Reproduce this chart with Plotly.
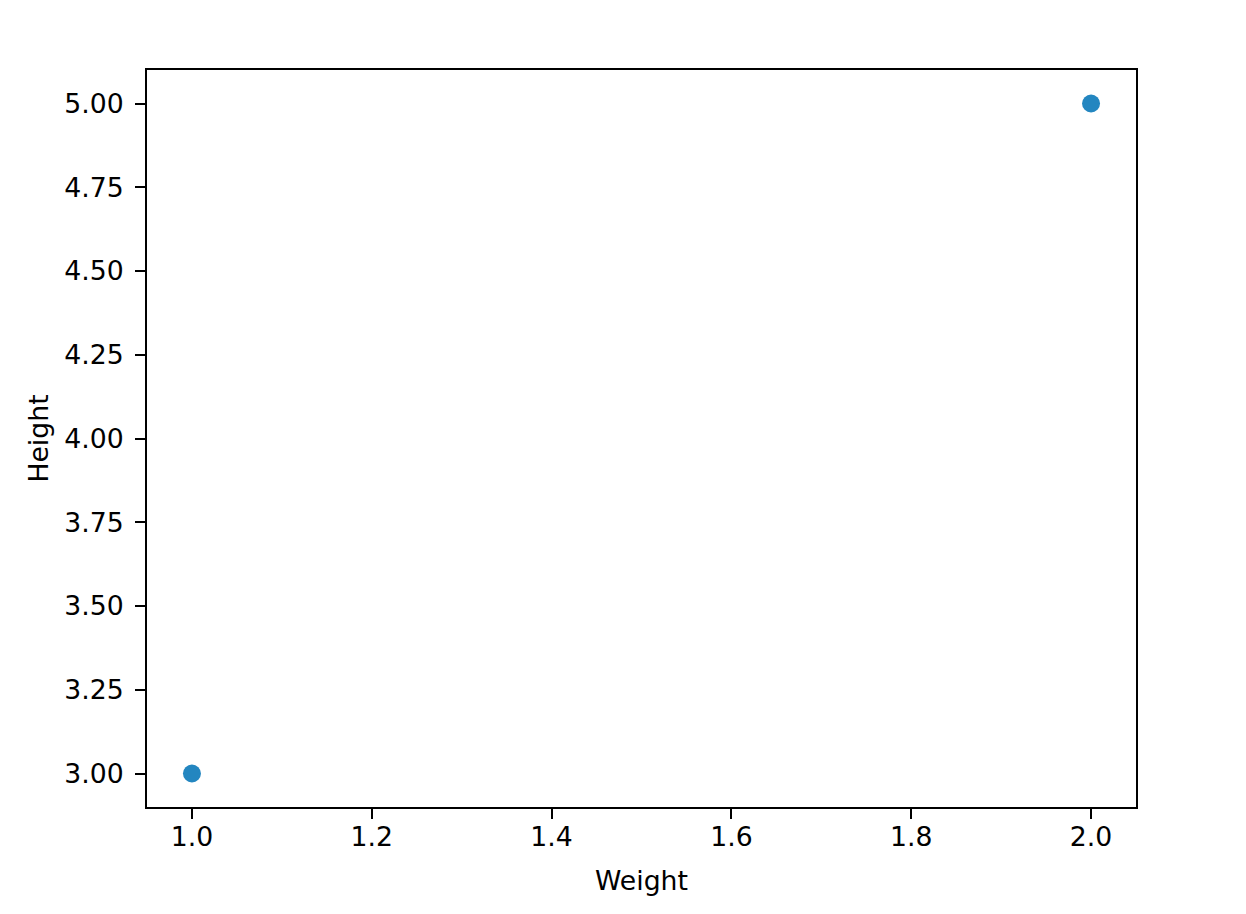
import plotly.graph_objects as go

weight = [1.0, 2.0]
height = [3.0, 5.0]
x_ticks = [1.0, 1.2, 1.4, 1.6, 1.8, 2.0]
y_ticks = [3.00, 3.25, 3.50, 3.75, 4.00, 4.25, 4.50, 4.75, 5.00]

FONT = dict(family="DejaVu Sans", size=26.7, color="black")

fig = go.Figure(go.Scatter(
    x=weight, y=height, mode="markers",
    marker=dict(color="#2386c0", size=18, line=dict(width=0)),
))

axis_common = dict(
    showgrid=False, zeroline=False, showline=True, linecolor="black", linewidth=2,
    mirror=True, ticks="outside", ticklen=10, tickwidth=2, tickcolor="black",
    tickfont=FONT,
)

fig.update_layout(
    width=1238, height=906,
    margin=dict(l=139, r=110, t=62, b=107),
    paper_bgcolor="white", plot_bgcolor="white",
    showlegend=False,
    font=FONT,
    xaxis=dict(range=[0.95, 2.05], tickvals=x_ticks,
               ticktext=[f"{v:.1f}" for v in x_ticks],
               ticklabelstandoff=-5,
               title=dict(text="Weight", standoff=20, font=FONT),
               **axis_common),
    yaxis=dict(range=[2.9, 5.1], tickvals=y_ticks,
               ticktext=[f"{v:.2f}" for v in y_ticks],
               ticklabelstandoff=6,
               title=dict(text="Height", standoff=8, font=FONT),
               **axis_common),
)

fig.write_html("out.html")
